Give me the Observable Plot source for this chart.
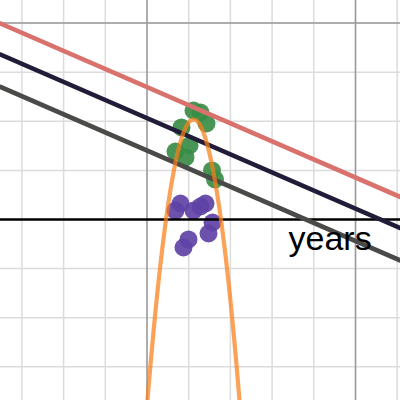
<!DOCTYPE html>
<html>
<head>
<meta charset="utf-8">
<script src="https://cdn.jsdelivr.net/npm/d3@7"></script>
<script src="https://cdn.jsdelivr.net/npm/@observablehq/plot@0.6"></script>
<style>
  html, body { margin: 0; padding: 0; background: #fff; }
  #chart svg { display: block; }
</style>
</head>
<body>
<div id="chart"></div>
<script>
// View window (graph units)
const xDomain = [-3.513, 6.079];
const yDomain = [-3.686, 4.460];

// Grid lines
const minorX = [-3, -2, -1, 0, 1, 2, 3, 4, 5, 6];
const majorX = [0, 5];
const minorY = [-3, -2, -1, 0, 1, 2, 3, 4];
const majorY = [4];
const axisY = [0];

// Scatter points
const greenX = [1.115, 1.283, 1.427, 0.827, 1.019, 0.683, 0.923, 1.559, 1.631];
const greenY = [2.220, 2.179, 1.955, 1.874, 1.507, 1.385, 1.263, 1.000, 0.815];
const purpleX = [0.803, 0.683, 1.115, 1.283, 1.403, 1.571, 1.475, 0.995, 0.875];
const purpleY = [0.326, 0.183, 0.183, 0.265, 0.326, -0.061, -0.285, -0.407, -0.570];

// Straight lines: y = intercept + slope * x
const lineNames = ["red", "navy", "gray"];
const lineIntercepts = [2.697, 2.065, 1.404];
const lineSlopes = [-0.3686, -0.3686, -0.3686];
const lineColors = ["#d9716d", "#221c38", "#4a4a48"];

// Parabola: y = vy - a (x - vx)^2
const parabolaVertexX = 1.115;
const parabolaVertexY = 2.037;
const parabolaA = 4.70;

// Label
const labelText = "years";
const labelX = 3.393;
const labelY = -0.631;

const greens = greenX.map((x, i) => ({x, y: greenY[i]}));
const purples = purpleX.map((x, i) => ({x, y: purpleY[i]}));
const lineSegs = lineNames.flatMap((name, i) =>
  xDomain.map(x => ({name, x, y: lineIntercepts[i] + lineSlopes[i] * x}))
);
const parab = d3.range(-0.2, 2.43, 0.01).map(x => ({x, y: parabolaVertexY - parabolaA * (x - parabolaVertexX) ** 2}));

const plot = Plot.plot({
  width: 400,
  height: 400,
  margin: 0,
  x: {domain: xDomain, axis: null},
  y: {domain: yDomain, axis: null},
  style: {background: "#fff", fontFamily: "'Liberation Sans', Arial, sans-serif"},
  marks: [
    Plot.ruleX(minorX, {stroke: "#dcdcdc", strokeWidth: 1.5}),
    Plot.ruleY(minorY, {stroke: "#dcdcdc", strokeWidth: 1.5}),
    Plot.ruleX(majorX, {stroke: "#9a9a9a", strokeWidth: 1.5}),
    Plot.ruleY(majorY, {stroke: "#9a9a9a", strokeWidth: 1.5}),
    Plot.dot(greens, {x: "x", y: "y", r: 9, fill: "#388c46", fillOpacity: 0.92, stroke: "none"}),
    Plot.dot(purples, {x: "x", y: "y", r: 9, fill: "#6042a6", fillOpacity: 0.92, stroke: "none"}),
    Plot.ruleY(axisY, {stroke: "#000", strokeWidth: 2.6}),
    Plot.line(lineSegs, {x: "x", y: "y", z: "name", stroke: (d) => lineColors[lineNames.indexOf(d.name)], strokeWidth: 4.6}),
    Plot.line(parab, {x: "x", y: "y", stroke: "#fa7e19", strokeOpacity: 0.72, strokeWidth: 4.2, clip: true}),
    Plot.text([labelText], {x: () => labelX, y: () => labelY, text: d => d, textAnchor: "start", lineAnchor: "bottom", fontSize: 34, fill: "#000"})
  ]
});
document.getElementById("chart").append(plot);
</script>
</body>
</html>
